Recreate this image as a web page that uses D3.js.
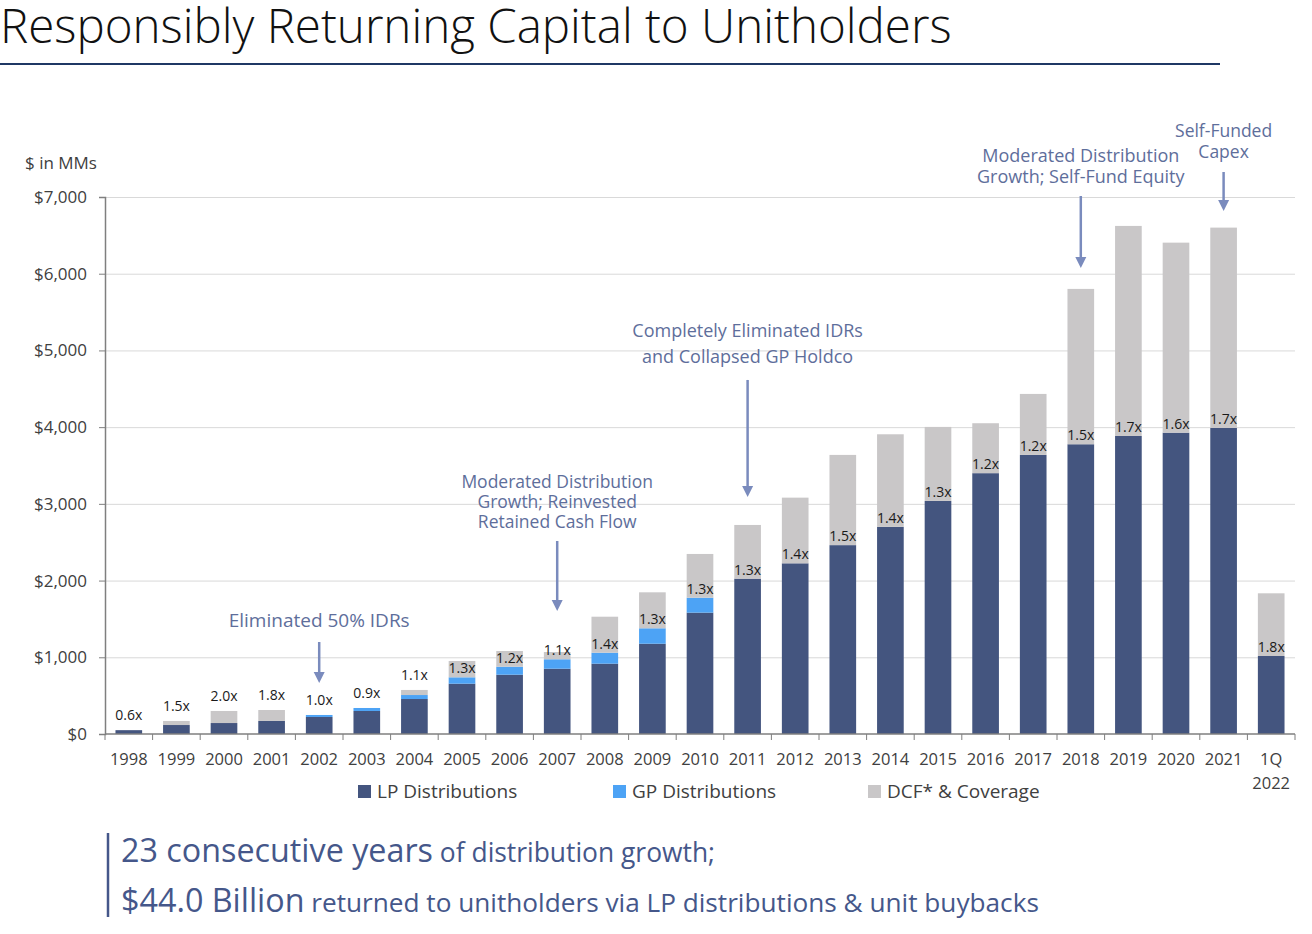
<!DOCTYPE html>
<meta charset="utf-8">
<script src="https://d3js.org/d3.v7.min.js"></script>
<style>
  body { margin: 0; background: #fff; }
  text { font-family: "Open Sans", "Noto Sans", sans-serif; }
</style>
<div id="chart"></div>
<script>
  // values ($MM)
  const years = ["1998", "1999", "2000", "2001", "2002", "2003", "2004", "2005", "2006", "2007", "2008", "2009",
    "2010", "2011", "2012", "2013", "2014", "2015", "2016", "2017", "2018", "2019", "2020", "2021", "1Q 2022"];
  const lpDist = [50, 117, 143, 170, 222, 300, 456, 656, 773, 851, 917, 1177,
    1582, 2025, 2225, 2462, 2700, 3038, 3400, 3638, 3777, 3885, 3928, 3990, 1017];
  const gpDist = [0, 0, 0, 0, 26, 39, 52, 83, 104, 123, 143, 201,
    195, 0, 0, 0, 0, 0, 0, 0, 0, 0, 0, 0, 0];
  const dcf = [30, 170, 300, 313, 248, 305, 574, 952, 1082, 1069, 1529, 1847,
    2347, 2725, 3081, 3638, 3907, 4003, 4051, 4433, 5802, 6623, 6405, 6601, 1834];
  const coverage = ["0.6x", "1.5x", "2.0x", "1.8x", "1.0x", "0.9x", "1.1x", "1.3x", "1.2x", "1.1x", "1.4x", "1.3x",
    "1.3x", "1.3x", "1.4x", "1.5x", "1.4x", "1.3x", "1.2x", "1.2x", "1.5x", "1.7x", "1.6x", "1.7x", "1.8x"];
  const yTicks = [0, 1000, 2000, 3000, 4000, 5000, 6000, 7000];
  const legendNames = ["LP Distributions", "GP Distributions", "DCF* & Coverage"];

  // callouts, anchored to a year and to $ values
  const notes = [
    { year: "2002", lines: ["Eliminated 50% IDRs"], at: 1395, size: 19, gap: 0, from: 1199, to: 665 },
    { year: "2007", lines: ["Moderated Distribution", "Growth; Reinvested", "Retained Cash Flow"], at: 3207, size: 17.5, gap: 20, from: 2516, to: 1603 },
    { year: "2011", lines: ["Completely Eliminated IDRs", "and Collapsed GP Holdco"], at: 5175, size: 18, gap: 25.5, from: 4615, to: 3089 },
    { year: "2018", lines: ["Moderated Distribution", "Growth; Self-Fund Equity"], at: 7457, size: 18, gap: 21, from: 7013, to: 6075 },
    { year: "2021", lines: ["Self-Funded", "Capex"], at: 7783, size: 17.5, gap: 21, from: 7326, to: 6818 }
  ];

  const colors = { lp: "#44557f", gp: "#4da3f5", excess: "#c9c7c8" };
  const noteText = "#5e6e9b", arrowColor = "#7a8bbd", ink = "#404040";

  const W = 1312, H = 934;
  const svg = d3.select("#chart").append("svg")
    .attr("width", W).attr("height", H);

  // title + rule
  svg.append("text")
    .attr("x", 0).attr("y", 43)
    .attr("font-size", 47.5).attr("font-weight", 300).attr("fill", "#111")
    .text("Responsibly Returning Capital to Unitholders");
  svg.append("line")
    .attr("x1", 0).attr("x2", 1220).attr("y1", 64).attr("y2", 64)
    .attr("stroke", "#1f3864").attr("stroke-width", 2);

  const rows = years.map((d, i) => ({
    year: d,
    lp: lpDist[i],
    gp: gpDist[i],
    excess: Math.max(0, dcf[i] - lpDist[i] - gpDist[i]),
    label: coverage[i]
  }));

  const x = d3.scaleBand().domain(years).range([105, 1295]).paddingInner(0.44).paddingOuter(0.22);
  const y = d3.scaleLinear().domain([0, 7000]).range([734, 197]);

  // gridlines
  svg.append("g")
    .attr("transform", "translate(105,0)")
    .call(d3.axisLeft(y).tickValues(yTicks.slice(1)).tickSize(-1190).tickFormat(""))
    .call(g => g.select(".domain").remove())
    .call(g => g.selectAll("line").attr("stroke", "#d9d9d9"));

  // stacked bars
  const series = d3.stack().keys(["lp", "gp", "excess"])(rows);
  svg.append("g").selectAll("g")
    .data(series)
    .join("g")
    .attr("fill", d => colors[d.key])
    .selectAll("rect")
    .data(d => d)
    .join("rect")
    .attr("x", d => x(d.data.year))
    .attr("y", d => y(d[1]))
    .attr("width", x.bandwidth())
    .attr("height", d => y(d[0]) - y(d[1]));

  // coverage labels: above the bar for small years, else above the distributions
  svg.append("g").selectAll("text")
    .data(rows)
    .join("text")
    .attr("x", d => x(d.year) + x.bandwidth() / 2)
    .attr("y", d => {
      const total = d.lp + d.gp + d.excess;
      return (total < 600 ? y(total) - 6 : y(d.lp + d.gp)) - 4;
    })
    .attr("text-anchor", "middle")
    .attr("font-size", 14)
    .attr("fill", "#1a1a1a")
    .text(d => d.label);

  // y axis
  svg.append("g")
    .attr("transform", "translate(105,0)")
    .call(d3.axisLeft(y).tickValues(yTicks).tickSize(6).tickPadding(12)
      .tickFormat(d => "$" + d3.format(",")(d)))
    .call(g => g.select(".domain").attr("stroke", "#7f7f7f").attr("stroke-width", 1.5))
    .call(g => g.selectAll(".tick line").attr("stroke", "#7f7f7f"))
    .call(g => g.selectAll(".tick text").attr("font-size", 17).attr("fill", ink)
      .attr("font-family", '"Open Sans", sans-serif'));

  svg.append("text")
    .attr("x", 25).attr("y", 169)
    .attr("font-size", 17).attr("fill", ink)
    .text("$ in MMs");

  // x axis: baseline, ticks between categories, two-line last label
  const xg = svg.append("g");
  xg.append("line")
    .attr("x1", 105).attr("x2", 1295).attr("y1", y(0)).attr("y2", y(0))
    .attr("stroke", "#7f7f7f").attr("stroke-width", 1.5);
  const bounds = years.map(d => x(d) - x.step() * x.paddingInner() / 2).concat([1295]);
  xg.selectAll(".tk")
    .data(bounds)
    .join("line")
    .attr("class", "tk")
    .attr("x1", d => d).attr("x2", d => d)
    .attr("y1", y(0)).attr("y2", y(0) + 6)
    .attr("stroke", "#7f7f7f");
  xg.selectAll(".lbl")
    .data(years)
    .join("text")
    .attr("class", "lbl")
    .attr("x", d => x(d) + x.bandwidth() / 2)
    .attr("y", 765)
    .attr("text-anchor", "middle")
    .attr("font-size", 16.5)
    .attr("fill", ink)
    .each(function (d) {
      const parts = d.split(" ");
      d3.select(this).selectAll("tspan")
        .data(parts)
        .join("tspan")
        .attr("x", x(d) + x.bandwidth() / 2)
        .attr("dy", (p, i) => i ? 24 : 0)
        .text(p => p);
    });

  // legend
  const lg = svg.append("g").selectAll("g")
    .data(legendNames)
    .join("g")
    .attr("transform", (d, i) => `translate(${358 + i * 255},785)`);
  lg.append("rect")
    .attr("width", 13).attr("height", 13)
    .attr("fill", (d, i) => [colors.lp, colors.gp, colors.excess][i]);
  lg.append("text")
    .attr("x", 19).attr("y", 13)
    .attr("font-size", 19).attr("fill", ink)
    .text(d => d);

  // callouts
  const ng = svg.append("g").selectAll("g")
    .data(notes)
    .join("g");
  ng.append("text")
    .attr("text-anchor", "middle")
    .attr("font-size", d => d.size)
    .attr("fill", noteText)
    .each(function (d) {
      const cx = x(d.year) + x.bandwidth() / 2;
      d3.select(this).selectAll("tspan")
        .data(d.lines)
        .join("tspan")
        .attr("x", cx)
        .attr("y", (l, i) => y(d.at) + i * d.gap)
        .text(l => l);
    });
  ng.append("line")
    .attr("x1", d => x(d.year) + x.bandwidth() / 2)
    .attr("x2", d => x(d.year) + x.bandwidth() / 2)
    .attr("y1", d => y(d.from))
    .attr("y2", d => y(d.to) - 8)
    .attr("stroke", arrowColor).attr("stroke-width", 2.5);
  ng.append("path")
    .attr("d", d => {
      const cx = x(d.year) + x.bandwidth() / 2, ty = y(d.to);
      return `M${cx - 5.5},${ty - 11}L${cx + 5.5},${ty - 11}L${cx},${ty}Z`;
    })
    .attr("fill", arrowColor);

  // summary block
  const blue = "#45578a";
  svg.append("line")
    .attr("x1", 108).attr("x2", 108).attr("y1", 833).attr("y2", 917)
    .attr("stroke", blue).attr("stroke-width", 2.5);
  const s1 = svg.append("text").attr("x", 121).attr("y", 862).attr("fill", blue);
  s1.append("tspan").attr("font-size", 32.3).text("23 consecutive years");
  s1.append("tspan").attr("font-size", 26.4).text(" of distribution growth;");
  const s2 = svg.append("text").attr("x", 121).attr("y", 912).attr("fill", blue);
  s2.append("tspan").attr("font-size", 32.3).text("$44.0 Billion");
  s2.append("tspan").attr("font-size", 26.2).text(" returned to unitholders via LP distributions & unit buybacks");
</script>
